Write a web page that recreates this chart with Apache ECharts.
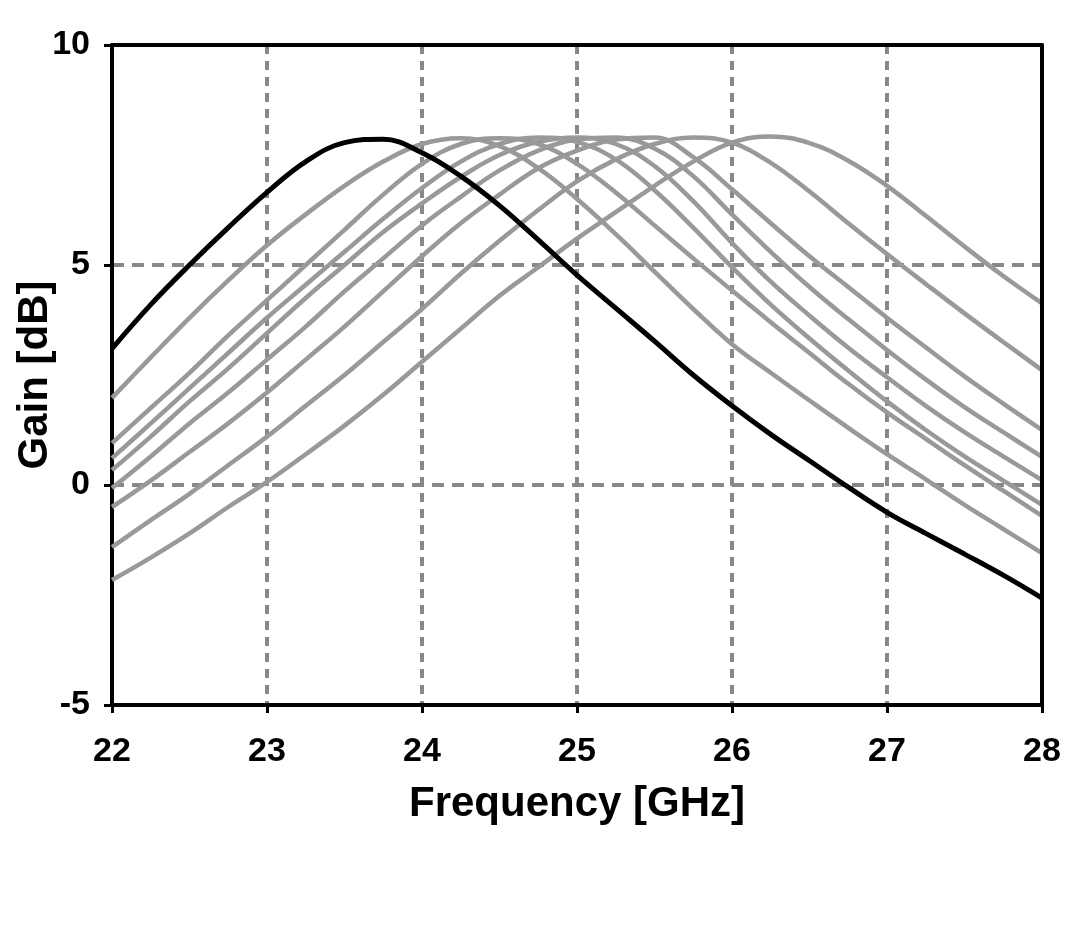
<!DOCTYPE html>
<html>
<head>
<meta charset="utf-8">
<script src="https://cdn.jsdelivr.net/npm/echarts@6/dist/echarts.min.js"></script>
<style>
  html, body { margin: 0; padding: 0; background: #fff; }
  #main { width: 1068px; height: 949px; }
</style>
</head>
<body>
<div id="main"></div>
<script>
// frequency points (GHz), 0.25 GHz step
var freq = [22, 22.25, 22.5, 22.75, 23, 23.25, 23.5, 23.75, 24, 24.25, 24.5, 24.75, 25,
            25.25, 25.5, 25.75, 26, 26.25, 26.5, 26.75, 27, 27.25, 27.5, 27.75, 28];

// black curve
var gainBlack = [3.1, 4.1, 5.0, 5.85, 6.65, 7.35, 7.78, 7.86, 7.55, 7.02, 6.35, 5.57, 4.77,
                 4.02, 3.27, 2.5, 1.8, 1.15, 0.55, -0.05, -0.62, -1.1, -1.57, -2.05, -2.57];

// grey curves (tuning states)
var gain1 = [1.98, 2.9, 3.8, 4.65, 5.45, 6.15, 6.8, 7.35, 7.75, 7.88, 7.7, 7.2, 6.5,
             5.7, 4.85, 4.0, 3.2, 2.55, 1.92, 1.3, 0.7, 0.13, -0.45, -1.0, -1.55];
var gain2 = [0.95, 1.75, 2.55, 3.4, 4.2, 5.0, 5.8, 6.6, 7.3, 7.75, 7.88, 7.75, 7.3,
             6.65, 5.9, 5.15, 4.42, 3.7, 3.0, 2.3, 1.65, 1.05, 0.45, -0.13, -0.7];
var gain3 = [0.61, 1.4, 2.2, 3.0, 3.8, 4.55, 5.3, 6.05, 6.75, 7.35, 7.75, 7.9, 7.8,
             7.4, 6.7, 5.85, 4.95, 4.1, 3.33, 2.6, 1.9, 1.25, 0.65, 0.1, -0.45];
var gain4 = [0.34, 1.1, 1.9, 2.65, 3.45, 4.25, 5.0, 5.75, 6.4, 7.0, 7.5, 7.8, 7.9,
             7.75, 7.25, 6.45, 5.5, 4.62, 3.85, 3.12, 2.45, 1.8, 1.2, 0.65, 0.11];
var gain5 = [-0.07, 0.65, 1.4, 2.1, 2.85, 3.6, 4.4, 5.15, 5.9, 6.55, 7.15, 7.6, 7.85,
             7.9, 7.65, 7.02, 6.15, 5.3, 4.5, 3.77, 3.07, 2.4, 1.77, 1.2, 0.64];
var gain6 = [-0.5, 0.1, 0.75, 1.4, 2.1, 2.85, 3.6, 4.4, 5.2, 5.95, 6.6, 7.2, 7.6,
             7.85, 7.9, 7.45, 6.72, 5.95, 5.2, 4.5, 3.8, 3.13, 2.47, 1.85, 1.25];
var gain7 = [-1.41, -0.8, -0.2, 0.45, 1.1, 1.8, 2.5, 3.25, 4.0, 4.8, 5.55, 6.25, 6.9,
             7.4, 7.75, 7.9, 7.78, 7.32, 6.67, 5.95, 5.25, 4.57, 3.9, 3.25, 2.61];
var gain8 = [-2.16, -1.65, -1.1, -0.5, 0.07, 0.7, 1.35, 2.05, 2.8, 3.55, 4.3, 4.95, 5.6,
             6.2, 6.8, 7.35, 7.78, 7.92, 7.77, 7.37, 6.8, 6.12, 5.42, 4.75, 4.13];

var greyCurves = [gain1, gain2, gain3, gain4, gain5, gain6, gain7, gain8];

function pairs(vals) {
    return freq.map(function (f, i) { return [f, vals[i]]; });
}

var font = 'Liberation Sans, Arial, sans-serif';

var series = greyCurves.map(function (g) {
    return {
        type: 'line',
        data: pairs(g),
        smooth: 0.4,
        showSymbol: false,
        lineStyle: { color: '#999999', width: 4.5 },
        z: 2
    };
});
series.push({
    type: 'line',
    data: pairs(gainBlack),
    smooth: 0.4,
    showSymbol: false,
    lineStyle: { color: '#000000', width: 5 },
    z: 3
});

var myChart = echarts.init(document.getElementById('main'));
myChart.setOption({
    animation: false,
    grid: { left: 112, top: 45, width: 930, height: 660, show: false, outerBoundsMode: 'none' },
    xAxis: [{
        type: 'value', min: 22, max: 28, interval: 1,
        name: 'Frequency [GHz]', nameLocation: 'middle', nameGap: 78,
        nameTextStyle: { fontFamily: font, fontWeight: 'bold', fontSize: 42, color: '#000' },
        axisLine: { onZero: false, lineStyle: { color: '#000', width: 4 } },
        axisTick: { show: true, length: 8, lineStyle: { color: '#000', width: 3 } },
        axisLabel: { margin: 30, fontFamily: font, fontWeight: 'bold', fontSize: 34, color: '#000' },
        splitLine: { show: true, showMinLine: false, showMaxLine: false,
                     lineStyle: { color: '#888888', width: 4, type: [9, 7] } }
    }, {
        type: 'value', min: 22, max: 28, position: 'top', z: 5,
        axisLine: { onZero: false, lineStyle: { color: '#000', width: 4 } },
        axisTick: { show: false }, axisLabel: { show: false }, splitLine: { show: false }
    }],
    yAxis: [{
        type: 'value', min: -5, max: 10, interval: 5,
        name: 'Gain [dB]', nameLocation: 'middle', nameGap: 56, nameMoveOverlap: false,
        nameTextStyle: { fontFamily: font, fontWeight: 'bold', fontSize: 42, color: '#000' },
        axisLine: { show: true, onZero: false, lineStyle: { color: '#000', width: 4 } },
        axisTick: { show: true, length: 8, lineStyle: { color: '#000', width: 3 } },
        axisLabel: { margin: 22, fontFamily: font, fontWeight: 'bold', fontSize: 34, color: '#000' },
        splitLine: { show: true, showMinLine: false, showMaxLine: false,
                     lineStyle: { color: '#888888', width: 4, type: [12, 8] } }
    }, {
        type: 'value', min: -5, max: 10, position: 'right', z: 5,
        axisLine: { show: true, onZero: false, lineStyle: { color: '#000', width: 4 } },
        axisTick: { show: false }, axisLabel: { show: false }, splitLine: { show: false }
    }],
    series: series
});
</script>
</body>
</html>
